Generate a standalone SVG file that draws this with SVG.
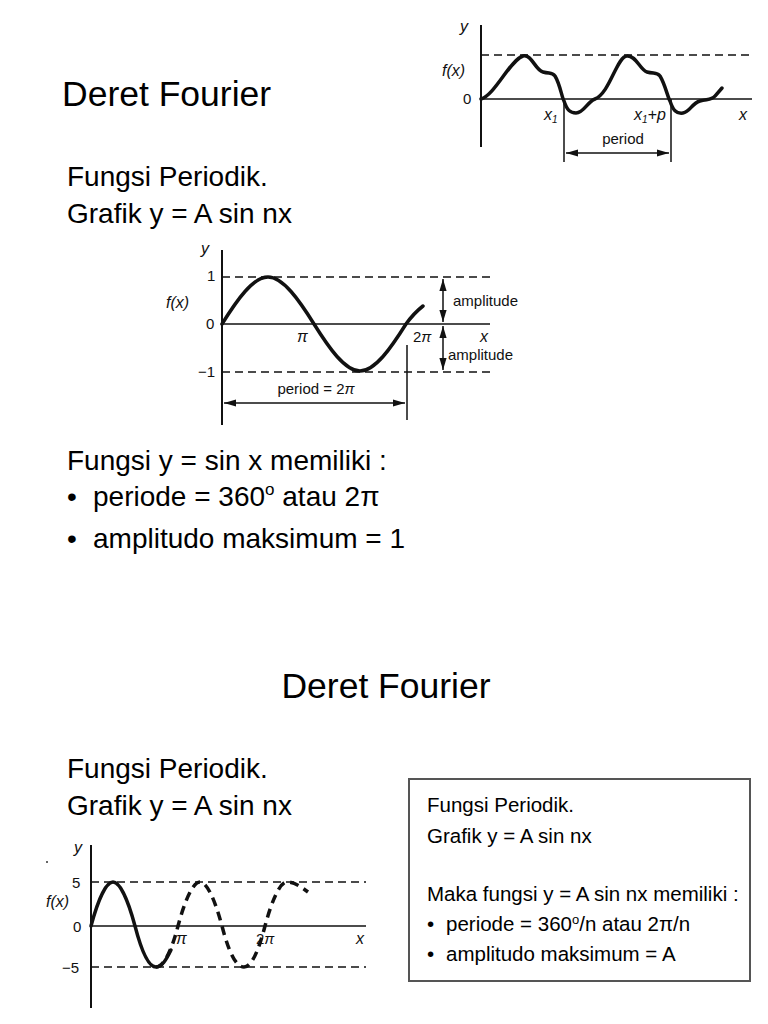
<svg xmlns="http://www.w3.org/2000/svg" width="768" height="1024" viewBox="0 0 768 1024">
<style>
.t{font-family:"Liberation Sans",Arial,sans-serif;fill:#000}
.h{font-size:35.5px}
.b{font-size:28px}
.s{font-size:20.5px}
.g{font-family:"Liberation Sans",Arial,sans-serif;font-size:15px;fill:#111}
.gi{font-family:"Liberation Sans",Arial,sans-serif;font-size:16px;font-style:italic;fill:#111}
.ax{stroke:#111;stroke-width:2;fill:none}
.ln{stroke:#111;stroke-width:1.5;fill:none}
.da{stroke:#111;stroke-width:1.5;stroke-dasharray:8,5;fill:none}
.cv{stroke:#111;stroke-width:3.5;fill:none;stroke-linecap:round}
.cd{stroke:#111;stroke-width:3.5;fill:none;stroke-dasharray:9,6}
</style>
<defs>
<marker id="ar" viewBox="0 0 10 10" refX="10" refY="5" markerWidth="8" markerHeight="8" orient="auto-start-reverse"><path d="M0,2 L10,5 L0,8 z" fill="#111"/></marker>
</defs>
<rect width="768" height="1024" fill="#fff"/>

<text class="t h" x="62" y="106">Deret Fourier</text>
<text class="t b" x="67" y="186">Fungsi Periodik.</text>
<text class="t b" x="67" y="223">Grafik y = A sin nx</text>
<text class="t b" x="67" y="470">Fungsi y = sin x memiliki :</text>
<text class="t b" x="67" y="506">•<tspan x="93">periode = 360</tspan><tspan font-size="17" dy="-11">o</tspan><tspan dy="11"> atau 2π</tspan></text>
<text class="t b" x="67" y="548">•<tspan x="93">amplitudo maksimum = 1</tspan></text>
<text class="t h" x="386" y="698" text-anchor="middle">Deret Fourier</text>
<text class="t b" x="67" y="778">Fungsi Periodik.</text>
<text class="t b" x="67" y="815">Grafik y = A sin nx</text>

<g id="graph-top">
<line class="ax" x1="481" y1="25" x2="481" y2="147"/>
<line class="da" x1="481" y1="55" x2="752" y2="55"/>
<line class="ln" x1="481" y1="99" x2="752" y2="99"/>
<line class="ln" x1="564" y1="99" x2="564" y2="162"/>
<line class="ln" x1="671" y1="99" x2="671" y2="162"/>
<line class="ln" x1="566" y1="153" x2="669" y2="153" marker-start="url(#ar)" marker-end="url(#ar)"/>
<path class="cv" d="M481,99 C495,95 510,60 523,56 C532,54 535,70 543,72 C550,74 552,72 555,76 C560,84 562,98 564,101 C567,110 570,113 576,113 C584,113 587,102 595,99 C610,93 617,56 627,56 C636,55 640,70 647,72 C654,74 657,72 660,76 C665,84 668,98 670,101 C673,110 676,114 683,113 C690,112 692,103 700,101 C708,99 712,100 715,96 L722,88"/>
<text class="gi" x="460" y="32">y</text>
<text class="gi" x="442" y="76">f(x)</text>
<text class="g" x="463" y="104">0</text>
<text class="gi" x="544" y="120">x<tspan font-size="10" dy="3">1</tspan></text>
<text class="gi" x="634" y="120">x<tspan font-size="10" dy="3">1</tspan><tspan dy="-3">+p</tspan></text>
<text class="gi" x="739" y="120">x</text>
<text class="g" x="623" y="144" text-anchor="middle">period</text>
</g>

<g id="graph-mid">
<line class="ax" x1="222" y1="250" x2="222" y2="425"/>
<line class="da" x1="222" y1="277" x2="490" y2="277"/>
<line class="ln" x1="222" y1="324" x2="490" y2="324"/>
<line class="da" x1="222" y1="372" x2="490" y2="372"/>
<line class="ln" x1="407" y1="345" x2="407" y2="420"/>
<line class="ln" x1="224" y1="403" x2="405" y2="403" marker-start="url(#ar)" marker-end="url(#ar)"/>
<line class="ln" x1="443" y1="279" x2="443" y2="322" marker-start="url(#ar)" marker-end="url(#ar)"/>
<line class="ln" x1="443" y1="326" x2="443" y2="370" marker-start="url(#ar)" marker-end="url(#ar)"/>
<path class="cv" d="M222,324 C237,300 253,277 268,277 C283,277 299,300 314,324 C329,348 345,371 360,371 C375,371 391,348 406,324 Q414,313 423,306"/>
<text class="gi" x="201" y="254">y</text>
<text class="g" x="207" y="281">1</text>
<text class="gi" x="166" y="308">f(x)</text>
<text class="g" x="206" y="329">0</text>
<text class="g" x="198" y="377">−1</text>
<text class="gi" x="297" y="342">π</text>
<text class="g" x="413" y="342">2<tspan font-style="italic">π</tspan></text>
<text class="gi" x="480" y="342">x</text>
<text class="g" x="453" y="306">amplitude</text>
<text class="g" x="448" y="360">amplitude</text>
<text class="g" x="316" y="394" text-anchor="middle">period = 2<tspan font-style="italic">π</tspan></text>
</g>

<g id="graph-bottom">
<line class="ax" x1="91" y1="845" x2="91" y2="1008"/>
<line class="da" x1="91" y1="882" x2="366" y2="882"/>
<line class="ln" x1="91" y1="926" x2="366" y2="926"/>
<line class="da" x1="91" y1="967" x2="366" y2="967"/>
<path class="cd" d="M156,967 C163,967 171,953 178,926 C185,900 193,882 200,882 C207,882 215,900 222,926 C229,953 236,967 244,967 C251,967 258,953 265,926 C272,900 280,882 287,882 C294,882 300,886 308,892"/>
<path class="cv" d="M91,926 C98,900 106,882 113,882 C120,882 128,900 135,926 C142,953 149,967 156,967 C162,967 166,960 171,950"/>
<circle cx="47" cy="862" r="1" fill="#333"/>
<text class="gi" x="74" y="853">y</text>
<text class="g" x="72" y="888" font-size="16">5</text>
<text class="gi" x="46" y="907">f(x)</text>
<text class="g" x="73" y="932" font-size="16">0</text>
<text class="g" x="62" y="973" font-size="16">−5</text>
<text class="gi" x="176" y="944">π</text>
<text class="g" x="256" y="944">2<tspan font-style="italic">π</tspan></text>
<text class="gi" x="356" y="944">x</text>
</g>

<g id="box">
<rect x="409" y="779" width="341" height="202" fill="#fff" stroke="#555" stroke-width="2"/>
<text class="t s" x="427" y="812">Fungsi Periodik.</text>
<text class="t s" x="427" y="843">Grafik y = A sin nx</text>
<text class="t s" x="427" y="901">Maka fungsi y = A sin nx memiliki :</text>
<text class="t s" x="427" y="931">•<tspan x="446">periode = 360</tspan><tspan font-size="13" dy="-7">o</tspan><tspan dy="7">/n atau 2π/n</tspan></text>
<text class="t s" x="427" y="961">•<tspan x="446">amplitudo maksimum = A</tspan></text>
</g>
</svg>
